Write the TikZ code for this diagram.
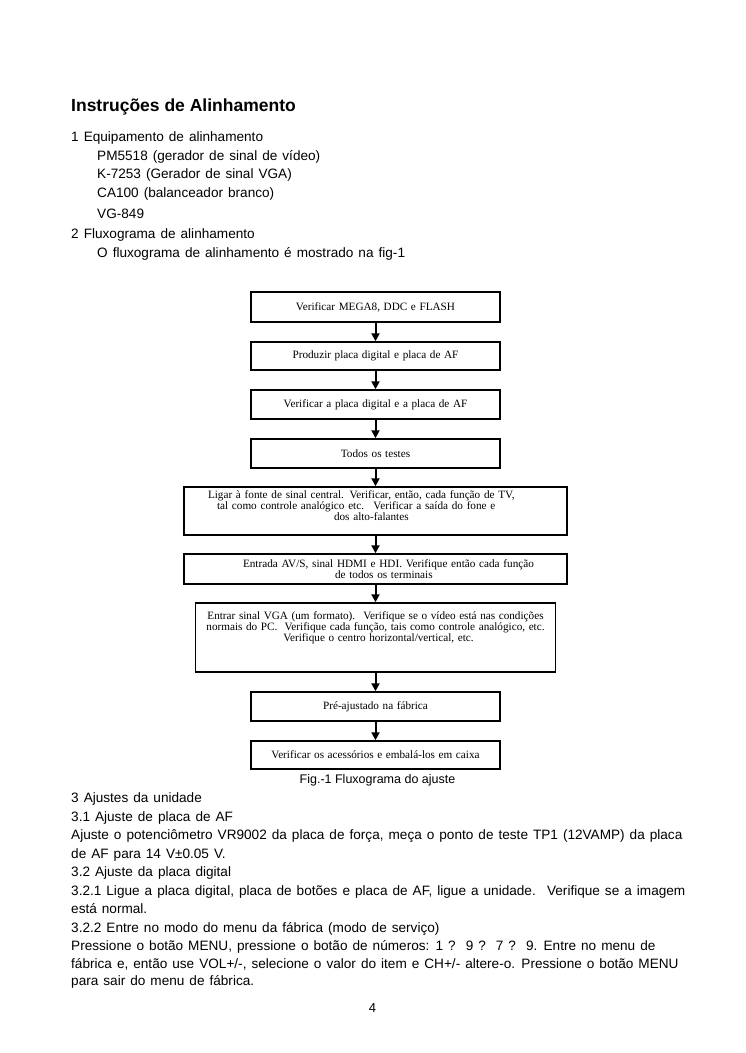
\documentclass[tikz,border=0pt]{standalone}
\usepackage{fontspec}
\setmainfont{Liberation Sans}
\newfontfamily\flowfont{Liberation Serif}
\usetikzlibrary{arrows.meta}
\newcommand\bodytext{\fontsize{13.6}{15}\selectfont\spaceskip=5pt plus 1pt minus 1pt\relax}
\newcommand\boxtext{\flowfont\fontsize{11.2}{11}\selectfont\spaceskip=3.6pt plus 1pt minus 1pt\relax}

\begin{document}
\begin{tikzpicture}[x=1pt, y=-1pt,
      txt/.style = {anchor=mid west, inner sep=0pt, font=\bodytext},
      flow/.style = {draw, line width=1.5pt, rectangle, inner sep=2pt, align=center, font=\boxtext},
      narrow/.style = {flow, minimum width=249pt},
      wide/.style = {flow, minimum width=383pt, text width=379pt, align=left},
      go/.style = {line width=2pt, -{Triangle[length=8pt, width=8pt]}}
      ]
      \useasboundingbox (0,0) rectangle (745,1053);

      % heading and list
      \node[txt, font=\bfseries\fontsize{17.5}{20}\selectfont] (title) at (71,109) {Instruções de Alinhamento};
      \node[txt] (s1) at (71,139) {1 Equipamento de alinhamento};
      \node[txt] (e1) at (97,157.5) {PM5518 (gerador de sinal de vídeo)};
      \node[txt] (e2) at (97,176) {K-7253 (Gerador de sinal VGA)};
      \node[txt] (e3) at (97,195) {CA100 (balanceador branco)};
      \node[txt] (e4) at (97,216) {VG-849};
      \node[txt] (s2) at (71,236) {2 Fluxograma de alinhamento};
      \node[txt] (s2a) at (97,254.5) {O fluxograma de alinhamento é mostrado na fig-1};

      % flowchart
      \node[narrow, minimum height=30pt] (verify) at (375.5,307) {Verificar MEGA8, DDC e FLASH};
      \node[narrow, minimum height=28pt] (produce) at (375.5,356) {Produzir placa digital e placa de AF};
      \node[narrow, minimum height=29pt] (boards) at (375.5,404.5) {Verificar a placa digital e a placa de AF};
      \node[narrow, minimum height=29pt] (tests) at (375.5,453.5) {Todos os testes};
      \node[wide, minimum height=48pt] (tvsig) at (375.5,511) {\hspace*{22pt}Ligar à fonte de sinal central. Verificar, então, cada função de TV,\\
            \hspace*{31pt}tal como controle analógico etc.~ Verificar a saída do fone e\\
            \hspace*{148pt}dos alto-falantes\\ \mbox{}};
      \node[wide, minimum height=30pt] (avin) at (375.5,569) {\hspace*{57pt}Entrada AV/S, sinal HDMI e HDI. Verifique então cada função\\
            \hspace*{149pt}de todos os terminais};
      \node[flow, minimum width=360pt, minimum height=69pt] (vga) at (375.5,637.5) {Entrar sinal VGA (um formato).~ Verifique se o vídeo está nas condições\\
            normais do PC.~ Verifique cada função, tais como controle analógico, etc.\\
            \hspace*{6pt}Verifique o centro horizontal/vertical, etc.\\ \mbox{}\\ \mbox{}};
      \node[narrow, minimum height=29pt] (preset) at (375.5,706.5) {Pré-ajustado na fábrica};
      \node[narrow, minimum height=28pt] (pack) at (375.5,755) {Verificar os acessórios e embalá-los em caixa};
      \node[anchor=mid, inner sep=0pt, font=\fontsize{12.5}{15}\selectfont] (caption) at (377.5,780.5) {Fig.-1 Fluxograma do ajuste};

      \draw[go] (verify) -- (produce);
      \draw[go] (produce) -- (boards);
      \draw[go] (boards) -- (tests);
      \draw[go] (tests) -- (tvsig);
      \draw[go] (tvsig) -- (avin);
      \draw[go] (avin) -- (vga);
      \draw[go] (vga) -- (preset);
      \draw[go] (preset) -- (pack);

      % adjustments
      \node[txt] (s3) at (71,799.5) {3 Ajustes da unidade};
      \node[txt] (s31) at (71,818.5) {3.1 Ajuste de placa de AF};
      \node[txt] (p31a) at (71,837) {Ajuste o potenciômetro VR9002 da placa de força, meça o ponto de teste TP1 (12VAMP) da placa};
      \node[txt] (p31b) at (71,855.5) {de AF para 14 V±0.05 V.};
      \node[txt] (s32) at (71,873.5) {3.2 Ajuste da placa digital};
      \node[txt] (p321a) at (71,892.5) {3.2.1 Ligue a placa digital, placa de botões e placa de AF, ligue a unidade.~ Verifique se a imagem};
      \node[txt] (p321b) at (71,911) {está normal.};
      \node[txt] (s322) at (71,929.5) {3.2.2 Entre no modo do menu da fábrica (modo de serviço)};
      \node[txt] (p322a) at (71,948) {Pressione o botão MENU, pressione o botão de números: 1 ?~~9 ?~~7 ?~~9. Entre no menu de};
      \node[txt] (p322b) at (71,965.5) {fábrica e, então use VOL+/-, selecione o valor do item e CH+/- altere-o. Pressione o botão MENU};
      \node[txt] (p322c) at (71,982.5) {para sair do menu de fábrica.};
      \node[anchor=mid, inner sep=0pt, font=\fontsize{13}{15}\selectfont] (page) at (372.5,1010) {4};
\end{tikzpicture}
\end{document}
